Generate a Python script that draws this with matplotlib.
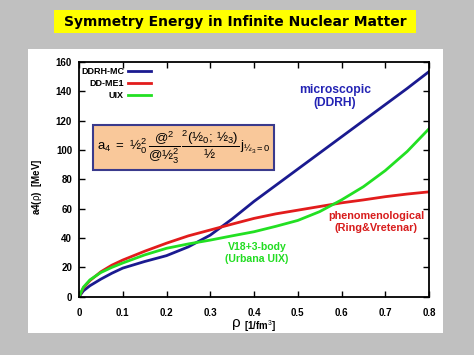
import numpy as np
import matplotlib
matplotlib.use("Agg")
from matplotlib import pyplot as plt
from matplotlib.patches import Rectangle

plt.rcParams['font.family'] = ['Liberation Sans', 'DejaVu Sans']
plt.rcParams['mathtext.fontset'] = 'custom'
plt.rcParams['mathtext.rm'] = 'Liberation Sans'
plt.rcParams['mathtext.it'] = 'Liberation Sans'

# density points [1/fm^3] and symmetry energy a4 [MeV]
rho = [0, 0.01, 0.025, 0.05, 0.075, 0.1, 0.15, 0.2, 0.25, 0.3, 0.35, 0.4,
       0.45, 0.5, 0.55, 0.6, 0.65, 0.7, 0.75, 0.8]
ddrh_mc = [0, 4, 7.5, 12, 16, 19.5, 24, 28, 34, 42, 53, 65,
           76, 87, 98, 109, 120, 131, 142, 153.5]
dd_me1 = [0, 6, 11, 17, 21.5, 25, 31, 36.5, 41.5, 45.5, 49.5, 53.4,
          56.5, 59, 61.5, 64, 66, 68.2, 70, 71.5]
uix = [0, 6.5, 11.5, 16.5, 20, 23, 28.5, 33, 36, 38.6, 41.5, 44.3,
       48, 52, 58, 66, 75, 86, 99, 114.5]

x_ticks = [0, 0.1, 0.2, 0.3, 0.4, 0.5, 0.6, 0.7, 0.8]
y_ticks = [0, 20, 40, 60, 80, 100, 120, 140, 160]

fig = plt.figure(figsize=(4.74, 3.55), dpi=100)
fig.patch.set_facecolor('#c0c0c0')

# white panel and yellow title bar
fig.patches.append(Rectangle((0.059, 0.062), 0.876, 0.800, transform=fig.transFigure,
                             facecolor='white', edgecolor='none', zorder=-5))
fig.patches.append(Rectangle((0.114, 0.907), 0.764, 0.065, transform=fig.transFigure,
                             facecolor='#ffff00', edgecolor='none', zorder=-5))
fig.text(0.496, 0.939, 'Symmetry Energy in Infinite Nuclear Matter', ha='center', va='center',
         fontsize=10, fontweight='bold', family='DejaVu Sans', color='black')

ax = fig.add_axes([0.1667, 0.1642, 0.7384, 0.661])
ax.set_facecolor('none')
ax.plot(rho, ddrh_mc, color='#1a1a90', lw=2.0, label='DDRH-MC')
ax.plot(rho, dd_me1, color='#e21c1c', lw=2.0, label='DD-ME1')
ax.plot(rho, uix, color='#22e022', lw=2.0, label='UIX')

ax.set_xlim(0, 0.8)
ax.set_ylim(0, 160)
ax.set_xticks(x_ticks)
ax.set_xticklabels(['0', '0.1', '0.2', '0.3', '0.4', '0.5', '0.6', '0.7', '0.8'])
ax.set_yticks(y_ticks)
ax.tick_params(direction='in', top=True, right=True, length=4, width=1, labelsize=7)
ax.tick_params(axis='x', pad=8)
ax.tick_params(axis='y', pad=5)
for lab in ax.get_xticklabels() + ax.get_yticklabels():
    lab.set_fontweight('bold')
for sp in ax.spines.values():
    sp.set_linewidth(1.3)

# axis labels: large rho, small bold units
ax.text(0.462, -0.088, r'$\rho$', transform=ax.transAxes, fontsize=11, ha='right', va='top')
ax.text(0.472, -0.09, r'[1/fm$^3$]', transform=ax.transAxes, fontsize=7, fontweight='bold',
        ha='left', va='top')
ax.set_ylabel(r'a4($\rho$)  [MeV]', fontsize=7, fontweight='bold')
ax.yaxis.set_label_coords(-0.10, 0.47)

leg = ax.legend(loc='upper left', bbox_to_anchor=(-0.01, 1.0), frameon=False, markerfirst=False,
                handlelength=2.6, fontsize=6.5, labelspacing=0.3, borderaxespad=0.2,
                handletextpad=0.4)
for t in leg.get_texts():
    t.set_fontweight('bold')

# formula box
ax.text(0.04, 102, r'$\mathrm{a_4\ =\ ½^{2}_{0}\,\dfrac{@^{2}}{@½^{2}_{3}}\,\dfrac{^{2}(½_0;\,½_3)}{½}\,j_{½_3= 0}}$',
        fontsize=9.5, va='center', ha='left',
        bbox=dict(boxstyle='square,pad=0.3', facecolor='#f9c89a', edgecolor='#3a3a8c', lw=1.5))

ax.text(0.585, 136.5, 'microscopic\n(DDRH)', color='#2323b4', fontsize=8.7, fontweight='bold',
        ha='center', va='center', linespacing=1.15)
ax.text(0.679, 51, 'phenomenological\n(Ring&Vretenar)', color='#d81c1c', fontsize=7.8,
        fontweight='bold', ha='center', va='center', linespacing=1.2)
ax.text(0.407, 30, 'V18+3-body\n(Urbana UIX)', color='#22dd22', fontsize=7.6,
        fontweight='bold', ha='center', va='center', linespacing=1.2)

fig.savefig('out.png', dpi=100, facecolor=fig.get_facecolor())
